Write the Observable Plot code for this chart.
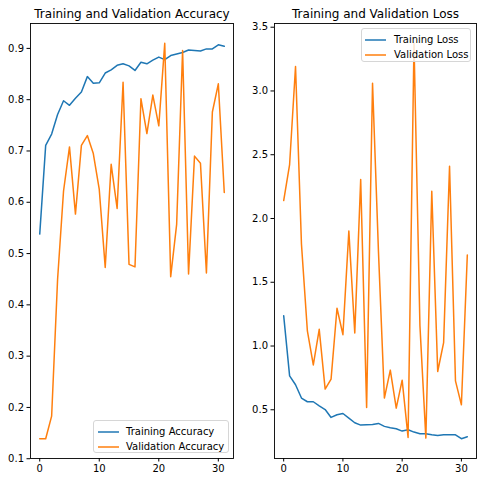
<!DOCTYPE html>
<html>
<head>
<meta charset="utf-8">
<script src="https://cdn.jsdelivr.net/npm/d3@7"></script>
<script src="https://cdn.jsdelivr.net/npm/@observablehq/plot@0.6"></script>
<style>
  body { margin: 0; background: white; font-family: "DejaVu Sans", sans-serif; }
  #wrap { position: relative; width: 483px; height: 482px; overflow: hidden; }
  #wrap > svg { position: absolute; top: 0; }
  .legend { position: absolute; box-sizing: border-box; border: 1px solid #d6d6d6; border-radius: 3px;
            background: rgba(255,255,255,0.8); font-size: 10px; color: #000; }
  .row { position: absolute; left: 0; height: 14px; white-space: nowrap; }
  .row svg { position: absolute; top: 0; }
  .row span { position: absolute; top: 0; line-height: 14px; }
</style>
</head>
<body>
<div id="wrap"></div>
<script>
const epochs = [0,1,2,3,4,5,6,7,8,9,10,11,12,13,14,15,16,17,18,19,20,21,22,23,24,25,26,27,28,29,30,31];
const trainAcc = [0.538,0.711,0.733,0.771,0.798,0.789,0.803,0.815,0.845,0.832,0.833,0.852,0.858,0.867,0.870,0.866,0.857,0.873,0.870,0.877,0.883,0.878,0.886,0.889,0.892,0.897,0.896,0.895,0.899,0.899,0.907,0.904];
const valAcc = [0.139,0.139,0.183,0.450,0.622,0.708,0.577,0.711,0.730,0.695,0.625,0.473,0.674,0.588,0.834,0.479,0.474,0.802,0.734,0.809,0.749,0.910,0.455,0.557,0.896,0.460,0.690,0.676,0.462,0.776,0.831,0.619];
const trainLoss = [1.238,0.766,0.696,0.592,0.563,0.563,0.531,0.502,0.440,0.461,0.471,0.435,0.398,0.380,0.382,0.385,0.393,0.370,0.359,0.351,0.333,0.343,0.325,0.312,0.312,0.304,0.299,0.304,0.304,0.304,0.273,0.288];
const valLoss = [2.141,2.423,3.192,1.800,1.118,0.852,1.131,0.662,0.740,1.296,1.089,1.901,1.103,2.305,0.518,3.061,1.740,0.592,0.811,0.513,0.732,0.283,3.374,1.160,0.278,2.214,0.800,1.027,2.409,0.727,0.539,1.713];
const accTicks = [0.1,0.2,0.3,0.4,0.5,0.6,0.7,0.8,0.9];
const lossTicks = [0.5,1.0,1.5,2.0,2.5,3.0,3.5];
const xTicks = [0,10,20,30];
const accLabels = ["Training Accuracy","Validation Accuracy"];
const lossLabels = ["Training Loss","Validation Loss"];
const titles = ["Training and Validation Accuracy","Training and Validation Loss"];
const colors = ["#1f77b4","#ff7f0e"];

function pad(vals) {
  const lo = d3.min(vals), hi = d3.max(vals), m = (hi - lo) * 0.05;
  return [lo - m, hi + m];
}
const xDomain = pad(epochs);

function table(a, b, labels) {
  return [
    ...epochs.map((e, i) => ({epoch: e, value: a[i], series: labels[0]})),
    ...epochs.map((e, i) => ({epoch: e, value: b[i], series: labels[1]}))
  ];
}

function panel({title, a, b, labels, ticks, width, marginLeft, marginRight}) {
  const data = table(a, b, labels);
  return Plot.plot({
    width, height: 482,
    marginTop: 23, marginBottom: 24, marginLeft, marginRight,
    style: {fontFamily: "DejaVu Sans", fontSize: "10px", color: "black", background: "white", overflow: "visible"},
    x: {domain: xDomain, ticks: xTicks, tickFormat: d3.format("d"), label: null, tickSize: 3.5, tickPadding: 3},
    y: {domain: pad([...a, ...b]), ticks, tickFormat: d3.format(".1f"), label: null, tickSize: 3.5, tickPadding: 3},
    color: {domain: labels, range: colors},
    marks: [
      Plot.line(data, {x: "epoch", y: "value", z: "series", stroke: "series", strokeWidth: 1.5}),
      Plot.frame({stroke: "black", strokeWidth: 0.9}),
      Plot.text([title], {frameAnchor: "top", lineAnchor: "bottom", dy: -6, fontSize: 12, fill: "black"})
    ]
  });
}

const wrap = document.getElementById("wrap");
const left = panel({title: titles[0], a: trainAcc, b: valAcc, labels: accLabels, ticks: accTicks, width: 241, marginLeft: 30, marginRight: 8});
left.style.left = "0px";
const right = panel({title: titles[1], a: trainLoss, b: valLoss, labels: lossLabels, ticks: lossTicks, width: 242, marginLeft: 33, marginRight: 7});
right.style.left = "241px";
wrap.append(left, right);

function legend(labels, box, lineX, textX) {
  const d = document.createElement("div");
  d.className = "legend";
  Object.assign(d.style, {left: box.x + "px", top: box.y + "px", width: box.w + "px", height: box.h + "px"});
  labels.forEach((lab, i) => {
    const r = document.createElement("div");
    r.className = "row";
    r.style.top = (4 + i * 15) + "px";
    r.style.width = box.w + "px";
    r.innerHTML = `<svg width="${box.w}" height="14"><line x1="${lineX}" x2="${lineX + 21}" y1="7" y2="7" stroke="${colors[i]}" stroke-width="1.5"/></svg><span style="left:${textX}px">${lab}</span>`;
    d.append(r);
  });
  wrap.append(d);
}
legend(accLabels, {x: 93, y: 420, w: 136, h: 33}, 4, 32);
legend(lossLabels, {x: 361, y: 28, w: 110, h: 34}, 3, 32);
</script>
</body>
</html>
